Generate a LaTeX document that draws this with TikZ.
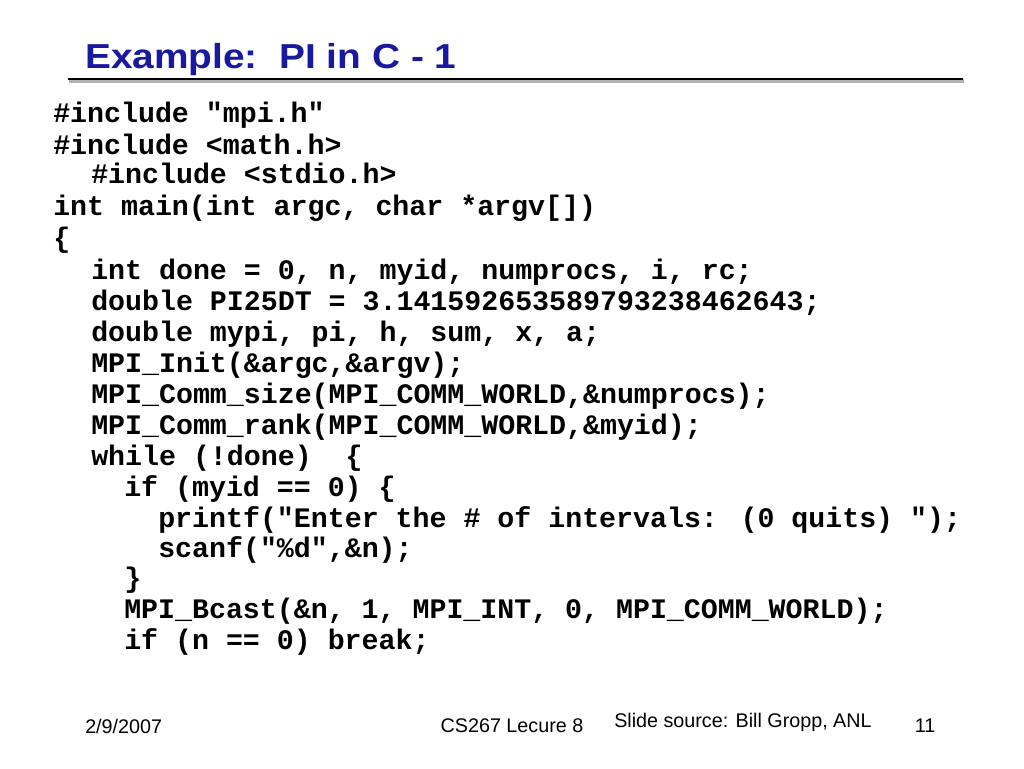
\documentclass[tikz,border=0pt]{standalone}
\usepackage{fontspec}
\setmainfont{Liberation Sans}
\newfontfamily\codefont{Liberation Mono}
\definecolor{titleblue}{RGB}{24,24,160}
\tikzset{
  code/.style={anchor=base west,inner sep=0pt,font=\codefont\bfseries\fontsize{21.2}{21}\selectfont},
  foot/.style={inner sep=0pt,font=\fontsize{14.8}{15}\selectfont}
}
\begin{document}
\begin{tikzpicture}[x=0.75pt,y=-0.75pt]
\useasboundingbox[fill=white] (0,0) rectangle (1024,768);
% title
\node[anchor=base west,inner sep=0pt,text=titleblue,xscale=1.12,font=\bfseries\fontsize{26}{26}\selectfont] (title) at (85,68) {Example:\ \ PI in C - 1};
\draw[line width=2.5pt,gray!60] (69,81) -- (964,81);
\draw[line width=1.5pt,black] (68,78.5) -- (963,78.5);
% code
\node[code] (l1) at (53,122) {\#include "mpi.h"};
\node[code] (l2) at (53,154) {\#include <math.h>};
\node[code] (l3) at (91,183) {\#include <stdio.h>};
\node[code] (l4) at (53,215) {int main(int argc, char *argv[])};
\node[code] (l5) at (53,247) {\{};
\node[code] (l6) at (91,279) {int done = 0, n, myid, numprocs, i, rc;};
\node[code] (l7) at (91,310) {double PI25DT = 3.141592653589793238462643;};
\node[code] (l8) at (91,341) {double mypi, pi, h, sum, x, a;};
\node[code] (l9) at (91,372) {MPI\_Init(\&argc,\&argv);};
\node[code] (l10) at (91,403) {MPI\_Comm\_size(MPI\_COMM\_WORLD,\&numprocs);};
\node[code] (l11) at (91,434) {MPI\_Comm\_rank(MPI\_COMM\_WORLD,\&myid);};
\node[code] (l12) at (91,465) {while (!done)\ \ \{};
\node[code] (l13) at (124,496) {if (myid == 0) \{};
\node[code] (l14) at (158,527) {printf("Enter the \# of intervals: (0 quits) ");};
\node[code] (l15) at (158,557) {scanf("\%d",\&n);};
\node[code] (l16) at (124,587) {\}};
\node[code] (l17) at (124,618) {MPI\_Bcast(\&n, 1, MPI\_INT, 0, MPI\_COMM\_WORLD);};
\node[code] (l18) at (124,649) {if (n == 0) break;};
% footer
\node[foot,anchor=west] (date) at (85,726) {2/9/2007};
\node[foot] (course) at (512,726) {CS267 Lecure 8};
\node[foot,anchor=west] (src) at (614,722) {Slide source: Bill Gropp, ANL};
\node[foot] (page) at (925,726) {11};
\end{tikzpicture}
\end{document}
